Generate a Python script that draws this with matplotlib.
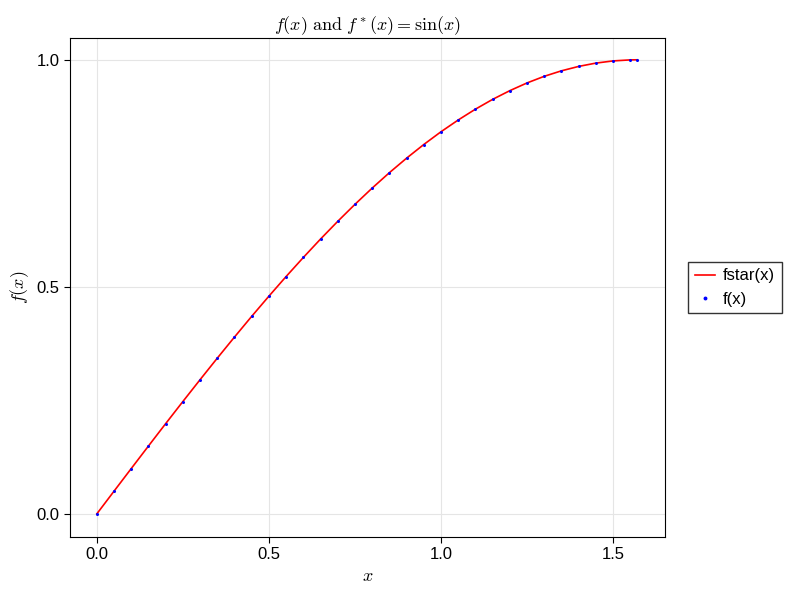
import matplotlib
matplotlib.use("Agg")
import matplotlib.pyplot as plt

plt.rcParams['font.family'] = ['Liberation Sans', 'DejaVu Sans']
plt.rcParams['mathtext.fontset'] = 'cm'

x_vals = [0.0, 0.05, 0.1, 0.15, 0.2, 0.25, 0.3, 0.35, 0.4, 0.45, 0.5, 0.55, 0.6, 0.65,
          0.7, 0.75, 0.8, 0.85, 0.9, 0.95, 1.0, 1.05, 1.1, 1.15, 1.2, 1.25, 1.3, 1.35,
          1.4, 1.45, 1.5, 1.55, 1.5708]
fstar_vals = [0.0, 0.05, 0.0998, 0.1494, 0.1987, 0.2474, 0.2955, 0.3429, 0.3894, 0.435,
              0.4794, 0.5227, 0.5646, 0.6052, 0.6442, 0.6816, 0.7174, 0.7513, 0.7833,
              0.8134, 0.8415, 0.8674, 0.8912, 0.9128, 0.932, 0.949, 0.9636, 0.9757,
              0.9854, 0.9927, 0.9975, 0.9998, 1.0]
f_vals = fstar_vals
xticks = [0.0, 0.5, 1.0, 1.5]
yticks = [0.0, 0.5, 1.0]

fig = plt.figure(figsize=(7.98, 5.95), dpi=100)
ax = fig.add_axes([70/798, 58/595, 595/798, 499/595])
ax.plot(x_vals, fstar_vals, color='red', lw=1.2, label='fstar(x)')
ax.plot(x_vals, f_vals, ls='none', marker='o', ms=1.2, color='blue', label='f(x)')
ax.set_xlim(-0.078, 1.651)
ax.set_ylim(-0.051, 1.048)
ax.set_xticks(xticks)
ax.set_yticks(yticks)
ax.set_xticklabels([f"{t:.1f}" for t in xticks])
ax.set_yticklabels([f"{t:.1f}" for t in yticks])
ax.grid(True, color='#e5e5e5', lw=0.8)
ax.tick_params(labelsize=12, length=4)
ax.set_xlabel(r'$x$', fontsize=13)
ax.set_ylabel(r'$f(x)$', fontsize=13)
ax.set_title(r'$f(x)\ \mathrm{and}\ f^*(x) = \sin(x)$', fontsize=13)
ax.legend(loc='center left', bbox_to_anchor=(1.025, 0.5), fontsize=12, frameon=True,
          fancybox=False, edgecolor='black', markerscale=1.5, handlelength=1.2,
          borderpad=0.4, handletextpad=0.5)
fig.savefig('out.png', dpi=100)
